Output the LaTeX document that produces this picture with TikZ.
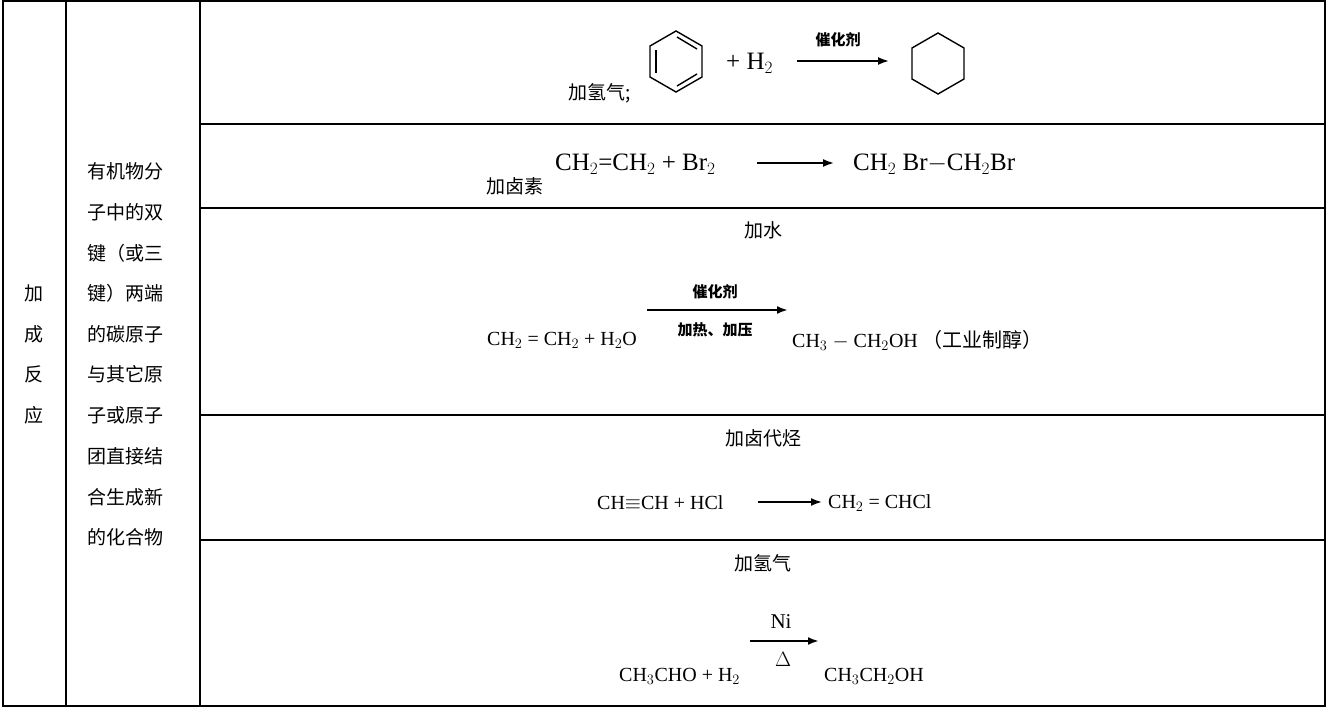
\documentclass[tikz,border=0pt]{standalone}
\usepackage{fontspec}
\setmainfont{Liberation Serif}
\newfontfamily\cjk{Noto Sans CJK SC}
\usetikzlibrary{arrows.meta}
\begin{document}
\begin{tikzpicture}[x=1pt,y=-1pt,
  grid/.style={line width=2.8pt},
  zh/.style={font=\cjk\fontsize{19}{22}\selectfont,inner sep=0pt},
  zhs/.style={font=\cjk\bfseries\fontsize{15}{18}\selectfont,inner sep=0pt},
  fm/.style={font=\fontsize{25}{27}\selectfont,inner sep=0pt,anchor=west},
  fs/.style={font=\fontsize{20}{22}\selectfont,inner sep=0pt,anchor=west},
  rx/.style={line width=1.8pt,-{Latex[length=11pt,width=8pt]}},
  ring/.style={line width=1.4pt}]
\useasboundingbox (0,0) rectangle (1327,708);
\fill[white] (0,0) rectangle (1327,708);
% grid
\draw[grid] (2,1) -- (1326,1);
\draw[grid] (2,706) -- (1326,706);
\draw[grid] (3,1) -- (3,706);
\draw[grid] (66,1) -- (66,706);
\draw[grid] (200,1) -- (200,706);
\draw[grid] (1325,1) -- (1325,706);
\foreach \y in {124,208,415,540} \draw[grid] (200,\y) -- (1326,\y);
% left column
\foreach \t/\y in {加/293,成/334,反/374,应/415} \node[zh] at (34,\y) {\t};
\foreach \t/\y in {有机物分/171,子中的双/212,键（或三/253,键）两端/293,的碳原子/334,与其它原/374,子或原子/415,团直接结/456,合生成新/497,的化合物/537}
  \node[zh,anchor=west] at (87,\y) {\t};
% row 1
\node[zh] (r1l) at (600,93) {加氢气;};
\draw[ring] (676,31) -- (702,46) -- (702,77) -- (676,92) -- (650,77) -- (650,46) -- cycle;
\draw[ring] (656,50) -- (656,73);
\draw[ring] (677,37) -- (697,49);
\draw[ring] (677,86) -- (697,74);
\node[fm] (h2a) at (726,63) {+ H$_2$};
\coordinate (a1s) at (797,61); \coordinate (a1e) at (889,61);
\draw[rx] (a1s) -- (a1e);
\node[zhs] at (838,40) {催化剂};
\draw[ring] (938,33) -- (964,48) -- (964,79) -- (938,94) -- (912,79) -- (912,48) -- cycle;
% row 2
\node[zh] at (515,186) {加卤素};
\node[fm] at (555,164) {CH$_2$=CH$_2$ + Br$_2$};
\coordinate (a2s) at (757,163); \coordinate (a2e) at (834,163);
\draw[rx] (a2s) -- (a2e);
\node[fm] at (853,164) {CH$_2$ Br$-$CH$_2$Br};
% row 3
\node[zh] at (763,230) {加水};
\node[fs] at (487,340) {CH$_2$ = CH$_2$ + H$_2$O};
\coordinate (a3s) at (647,310); \coordinate (a3e) at (788,310);
\draw[rx,line width=2.4pt] (a3s) -- (a3e);
\node[zhs] at (715,292) {催化剂};
\node[zhs] at (715,330) {加热、加压};
\node[fs] at (792,340) {CH$_3$ $-$ CH$_2$OH {\cjk（工业制醇）}};
% row 4
\node[zh] at (763,438) {加卤代烃};
\node[fs] at (597,503) {CH$\equiv$CH + HCl};
\coordinate (a4s) at (758,502); \coordinate (a4e) at (822,502);
\draw[rx] (a4s) -- (a4e);
\node[fs] at (828,503) {CH$_2$ = CHCl};
% row 5
\node[zh] at (763,563) {加氢气};
\node[font=\fontsize{21}{23}\selectfont] at (781,622) {Ni};
\coordinate (a5s) at (750,641); \coordinate (a5e) at (819,641);
\draw[rx,line width=2.4pt] (a5s) -- (a5e);
\node[font=\fontsize{20}{22}\selectfont] at (783,659) {$\Delta$};
\node[fs] at (619,676) {CH$_3$CHO + H$_2$};
\node[fs] at (824,676) {CH$_3$CH$_2$OH};
\end{tikzpicture}
\end{document}
